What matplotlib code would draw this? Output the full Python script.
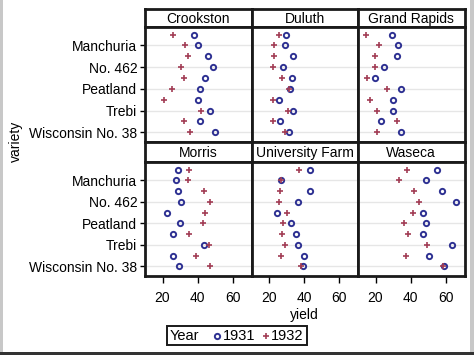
import matplotlib
matplotlib.use("Agg")
import matplotlib.pyplot as plt
from matplotlib.patches import Rectangle
from matplotlib.lines import Line2D

plt.rcParams['font.family'] = ['Liberation Sans', 'DejaVu Sans']

varieties = ['Glabron', 'Manchuria', 'No. 457', 'No. 462', 'No. 475',
             'Peatland', 'Svansota', 'Trebi', 'Velvet', 'Wisconsin No. 38']
sites = ['Crookston', 'Duluth', 'Grand Rapids', 'Morris', 'University Farm', 'Waseca']

# yields per site, varieties in the order above
yield_1931 = {
    'Crookston':       [38.13, 39.93, 45.67, 48.57, 44.10, 41.60, 40.47, 46.93, 41.33, 49.87],
    'Duluth':          [29.67, 28.97, 33.60, 28.10, 33.07, 32.00, 25.70, 33.93, 26.30, 31.60],
    'Grand Rapids':    [29.13, 32.97, 32.17, 24.93, 19.70, 34.70, 29.67, 29.77, 23.03, 34.47],
    'Morris':          [28.77, 27.43, 28.70, 30.37, 22.60, 29.87, 25.77, 43.77, 26.13, 29.47],
    'University Farm': [43.07, 27.00, 43.27, 36.60, 24.67, 32.77, 35.13, 36.57, 39.90, 39.30],
    'Waseca':          [55.20, 48.87, 58.10, 65.77, 46.77, 48.57, 47.33, 63.83, 50.23, 58.80],
}
yield_1932 = {
    'Crookston':       [26.17, 32.97, 34.33, 30.53, 32.13, 25.23, 20.63, 41.83, 32.07, 35.90],
    'Duluth':          [25.87, 22.57, 22.70, 22.50, 27.37, 31.37, 22.23, 30.60, 22.47, 29.33],
    'Grand Rapids':    [14.43, 22.13, 19.47, 19.90, 15.23, 26.77, 16.63, 20.63, 32.23, 20.67],
    'Morris':          [35.13, 34.37, 43.53, 47.00, 44.23, 43.20, 35.03, 46.63, 38.83, 47.17],
    'University Farm': [36.80, 26.90, 26.43, 25.57, 30.00, 28.07, 27.43, 29.07, 26.80, 38.00],
    'Waseca':          [37.73, 33.47, 42.20, 44.70, 41.27, 36.03, 38.50, 49.23, 37.40, 58.17],
}
xticks = [20, 40, 60]

c31 = '#2e3192'
c32 = '#a23d55'
edge = '#1a1a1a'

W, H = 474, 355
fig = plt.figure(figsize=(W / 100, H / 100), dpi=100)

def box(x0, y0, x1, y1):
    return [x0 / W, 1 - y1 / H, (x1 - x0) / W, (y1 - y0) / H]

cols = [(145, 251.5), (251.5, 358), (358, 464.5)]
rows = [((9, 27), (27, 142)), ((142, 162), (162, 276))]
pos = list(range(1, len(varieties) + 1))

for i, site in enumerate(sites):
    r, c = divmod(i, 3)
    (hy0, hy1), (dy0, dy1) = rows[r]
    x0, x1 = cols[c]

    hax = fig.add_axes(box(x0, hy0, x1, hy1))
    hax.set_xticks([])
    hax.set_yticks([])
    for s in hax.spines.values():
        s.set_linewidth(2.0)
        s.set_color(edge)
    hax.text(0.5, 0.45, site, ha='center', va='center', fontsize=10, transform=hax.transAxes)

    ax = fig.add_axes(box(x0, dy0, x1, dy1))
    ax.plot(yield_1931[site], pos, 'o', ls='none', mfc='none', mec=c31, ms=3.8, mew=1.4, zorder=3)
    ax.plot(yield_1932[site], pos, '+', ls='none', color=c32, ms=4.6, mew=1.2, zorder=3)
    ax.set_xlim(10, 70.7)
    ax.set_ylim(10.9, 0.3)
    ax.set_yticks(pos[1::2])
    ax.yaxis.grid(True, color='#e6e6e6', lw=1)
    ax.set_axisbelow(True)
    for s in ax.spines.values():
        s.set_linewidth(2.0)
        s.set_color(edge)
    if c == 0:
        ax.set_yticklabels(varieties[1::2], fontsize=10)
        ax.tick_params(axis='y', length=3.5, width=1, pad=2)
    else:
        ax.tick_params(axis='y', left=False, labelleft=False)
    ax.set_xticks(xticks)
    if r == 1:
        ax.tick_params(axis='x', length=5, width=1, labelsize=10, pad=6)
    else:
        ax.tick_params(axis='x', bottom=False, labelbottom=False)

fig.text(304 / W, 1 - 315 / H, 'yield', ha='center', va='center', fontsize=10)
fig.text(16 / W, 1 - 141 / H, 'variety', ha='center', va='center', rotation=90, fontsize=10)

# legend box
fig.add_artist(Rectangle((167 / W, 1 - 345 / H), 140 / W, 19.5 / H, transform=fig.transFigure,
                         fill=False, ec=edge, lw=1.4))
ly = 1 - 336 / H
fig.text(170 / W, ly, 'Year', ha='left', va='center', fontsize=10.5)
fig.add_artist(Line2D([216.7 / W], [ly], transform=fig.transFigure, marker='o', ls='none',
                      mfc='none', mec=c31, ms=3.8, mew=1.4))
fig.text(223 / W, ly, '1931', ha='left', va='center', fontsize=10.5)
fig.add_artist(Line2D([265.7 / W], [ly], transform=fig.transFigure, marker='+', ls='none',
                      color=c32, ms=4.6, mew=1.2))
fig.text(271 / W, ly, '1932', ha='left', va='center', fontsize=10.5)

# frame strips of the screenshot
fig.add_artist(Rectangle((0, 0), 2.5 / W, 1, transform=fig.transFigure, color='#c8c8c8', lw=0))
fig.add_artist(Rectangle((469.5 / W, 0), 4.5 / W, 1, transform=fig.transFigure, color='#c8c8c8', lw=0))
fig.add_artist(Rectangle((0, 0), 1, 3.5 / H, transform=fig.transFigure, color='#333333', lw=0))

fig.savefig('out.png', dpi=100)
